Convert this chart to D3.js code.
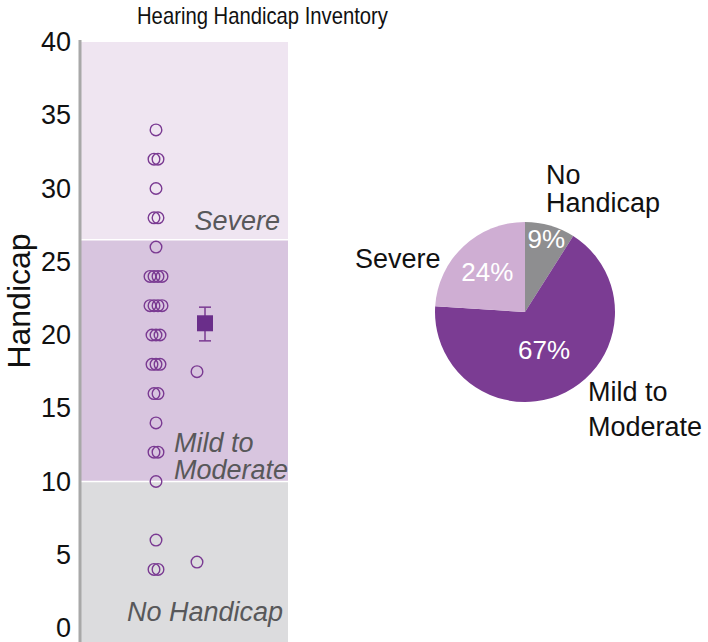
<!DOCTYPE html>
<html><head><meta charset="utf-8">
<script src="https://cdn.jsdelivr.net/npm/d3@7"></script>
<style>body{margin:0;background:#fff;} svg{display:block;font-family:Arial,"Liberation Sans",sans-serif;}</style>
</head><body><svg id="c" width="708" height="642"></svg>
<script>
// ---- data ----
const categories = ["No Handicap", "Mild to Moderate", "Severe"];
const bandLower = [0, 10, 26.5];
const bandUpper = [10, 26.5, 40];
const scoresMain = [34,32,32,30,28,28,26,24,24,24,24,22,22,22,22,20,20,20,18,18,18,16,16,14,12,12,10,6,4,4];
const scoresSecond = [17.5, 4.5];
const meanScore = 20.8, meanLow = 19.6, meanHigh = 21.9;
const piePercent = [9, 67, 24];
const yTicks = [0,5,10,15,20,25,30,35,40];

// ---- styles ----
const bandColors = ["#dcdcde", "#d8c5df", "#efe5f1"];
const pieColors = ["#8e8e90", "#7b3c93", "#cfaed3"];
const dotColor = "#7a3a92";

const svg = d3.select("#c");
const y = d3.scaleLinear().domain([0, 40]).range([628, 42]);
const xCol = d3.scaleOrdinal().domain(["main","second","mean"]).range([156, 197, 205]);

svg.append("text").attr("x", 137).attr("y", 24)
  .attr("font-size", 24).attr("textLength", 251).attr("lengthAdjust","spacingAndGlyphs")
  .attr("fill","#111").text("Hearing Handicap Inventory");

// bands
svg.selectAll("rect.band").data(categories).enter().append("rect")
  .attr("x", 81).attr("width", 207)
  .attr("y", (d,i) => y(bandUpper[i]))
  .attr("height", (d,i) => (i === 0 ? 642 : y(bandLower[i])) - y(bandUpper[i]))
  .attr("fill", (d,i) => bandColors[i]);
[10, 26.5].forEach(v => svg.append("line").attr("x1",81).attr("x2",288)
  .attr("y1", y(v)).attr("y2", y(v)).attr("stroke","#fff").attr("stroke-width",1.5));

// axis
const ax = svg.append("g").attr("transform","translate(80,0)")
  .call(d3.axisLeft(y).tickValues(yTicks).tickSize(0).tickPadding(9));
ax.select(".domain").attr("stroke","#a8a8a8").attr("stroke-width",3).attr("d", `M0,${y(40)-2}V642`);
ax.selectAll("text").attr("font-size", 27).attr("font-family","Arial,'Liberation Sans',sans-serif").attr("fill","#111");

svg.append("text").attr("transform","translate(30,301) rotate(-90)").attr("text-anchor","middle")
  .attr("font-size", 32).attr("fill","#111").text("Handicap");

// band labels
const lab = (x, yy, t, anchor) => svg.append("text").attr("x",x).attr("y",yy).attr("text-anchor",anchor||"start")
  .attr("font-size",27).attr("font-style","italic").attr("fill","#58585a").text(t);
lab(280, 230, "Severe", "end");
lab(174, 452, "Mild to");
lab(174, 479, "Moderate");
lab(127, 621, "No Handicap");

// dots with jitter for duplicates
function jitter(vals) {
  const counts = d3.rollup(vals, v => v.length, d => d);
  const seen = new Map();
  return vals.map(v => { const n = counts.get(v); const k = seen.get(v) || 0; seen.set(v, k+1);
    return {v, off: (k - (n-1)/2) * 4}; });
}
svg.selectAll("circle.m").data(jitter(scoresMain)).enter().append("circle")
  .attr("cx", d => xCol("main") + d.off).attr("cy", d => y(d.v)).attr("r", 5.8)
  .attr("fill","none").attr("stroke", dotColor).attr("stroke-width",1.4);
svg.selectAll("circle.s").data(scoresSecond).enter().append("circle")
  .attr("cx", xCol("second")).attr("cy", d => y(d)).attr("r", 5.8)
  .attr("fill","none").attr("stroke", dotColor).attr("stroke-width",1.4);

// mean + error
const mx = xCol("mean");
const eg = svg.append("g").attr("stroke", dotColor).attr("stroke-width",1.5);
eg.append("line").attr("x1",mx).attr("x2",mx).attr("y1",y(meanHigh)).attr("y2",y(meanLow));
eg.append("line").attr("x1",mx-6).attr("x2",mx+6).attr("y1",y(meanHigh)).attr("y2",y(meanHigh));
eg.append("line").attr("x1",mx-6).attr("x2",mx+6).attr("y1",y(meanLow)).attr("y2",y(meanLow));
svg.append("rect").attr("x",mx-8).attr("y",y(meanScore)-8).attr("width",16).attr("height",16).attr("fill","#6a2e8a");

// pie
const cx = 525, cy = 312, R = 90;
const pie = d3.pie().sort(null).value(d => d)(piePercent);
const arc = d3.arc().innerRadius(0).outerRadius(R);
const pg = svg.append("g").attr("transform",`translate(${cx},${cy})`);
pg.selectAll("path").data(pie).enter().append("path").attr("d", arc).attr("fill",(d,i)=>pieColors[i]);
const labelR = [76, 42, 55];
pg.selectAll("text.p").data(pie).enter().append("text")
  .attr("transform", (d,i) => `translate(${d3.arc().innerRadius(labelR[i]).outerRadius(labelR[i]).centroid(d)})`)
  .attr("text-anchor","middle").attr("dy","0.35em").attr("font-size",26).attr("fill","#fff")
  .text(d => d.data + "%");

const ol = (x, yy, t) => svg.append("text").attr("x",x).attr("y",yy).attr("font-size",27).attr("fill","#111").text(t);
ol(546, 184, "No");
ol(546, 212, "Handicap");
ol(355, 268, "Severe");
ol(588, 401, "Mild to");
ol(588, 436, "Moderate");
</script></body></html>
